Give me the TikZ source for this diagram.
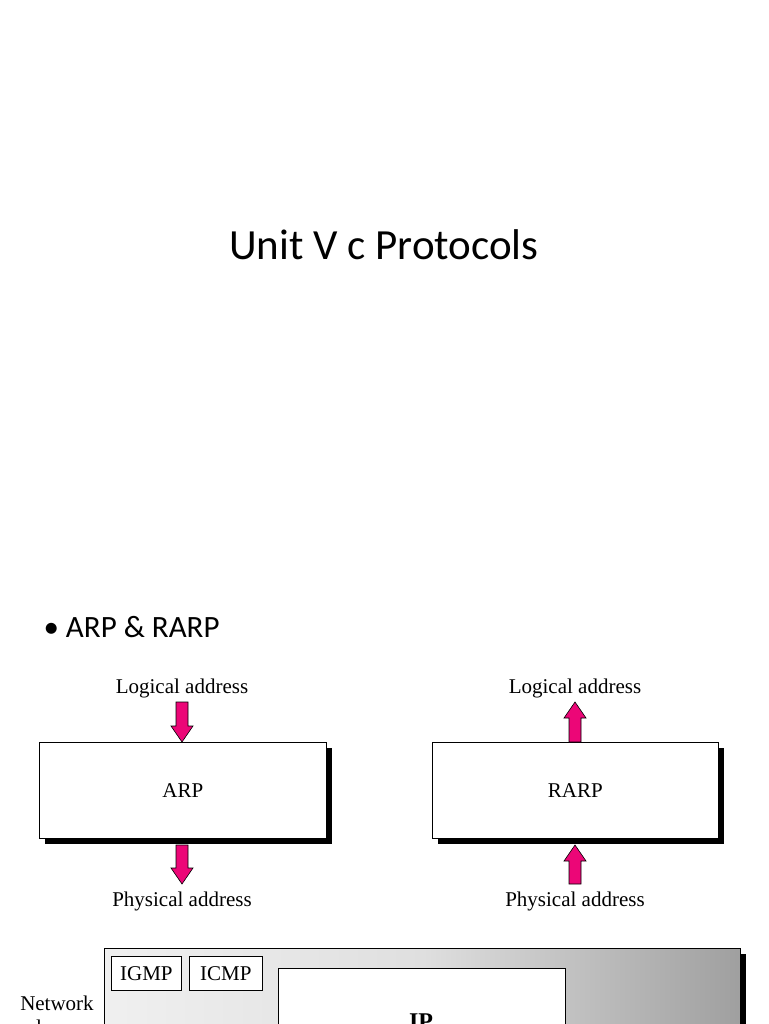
\documentclass[tikz,border=0pt]{standalone}
\usepackage{fontspec}
\setmainfont{Liberation Serif}
\newfontfamily\calfont{Carlito}
\begin{document}
\begin{tikzpicture}[x=1pt,y=-1pt,
  box/.style={draw=black,fill=white,line width=0.8pt},
  shadow/.style={fill=black},
  lbl/.style={font=\fontsize{21}{24}\selectfont},
  pink/.style={draw=black,fill=magenta!80!red,line width=0.6pt}]
\useasboundingbox (0,0) rectangle (768,1024);
\clip (0,0) rectangle (768,1024);
\node[font=\calfont\fontsize{43}{48}\selectfont] (title) at (384,245) {Unit V c Protocols};
\node[font=\calfont\fontsize{31}{36}\selectfont,anchor=west] (bul) at (40,627) {\textbullet\ ARP \& RARP};
% ARP
\fill[shadow] (45,748) rectangle (332,844);
\node[box,minimum width=287,minimum height=96,anchor=north west,lbl] (arp) at (39,742) {ARP};
\node[lbl] (la1) at (182,688) {Logical address};
\node[lbl] (pa1) at (182,901) {Physical address};
\fill[shadow] (438,748) rectangle (724,844);
\node[box,minimum width=286,minimum height=96,anchor=north west,lbl] (rarp) at (432,742) {RARP};
\node[lbl] (la2) at (575,688) {Logical address};
\node[lbl] (pa2) at (575,901) {Physical address};
% arrows
\def\down#1#2#3{\draw[pink] (#1-6,#2) -- (#1+6,#2) -- (#1+6,#3-16) -- (#1+11,#3-16) -- (#1,#3) -- (#1-11,#3-16) -- (#1-6,#3-16) -- cycle;}
\def\up#1#2#3{\draw[pink] (#1-6,#2) -- (#1+6,#2) -- (#1+6,#3+16) -- (#1+11,#3+16) -- (#1,#3) -- (#1-11,#3+16) -- (#1-6,#3+16) -- cycle;}
\down{182}{702}{742}
\down{182}{845}{884}
\up{575}{742}{702}
\up{575}{884}{845}
% bottom
\fill[shadow] (110,954) rectangle (746,1030);
\shade[left color=gray!12,right color=gray!75,middle color=gray!25] (104,948) rectangle (740,1030);
\draw[line width=0.8pt] (104,948) rectangle (740,1030);
\node[box,minimum width=70,minimum height=34,anchor=north west,lbl] (igmp) at (111,956) {IGMP};
\node[box,minimum width=73,minimum height=34,anchor=north west,lbl] (icmp) at (189,956) {ICMP};
\node[box,minimum width=287,minimum height=70,anchor=north west] (ip) at (278,968) {};
\node[font=\fontsize{24}{28}\selectfont\bfseries] (iptxt) at (421,1022) {IP};
\node[lbl,align=center] (net) at (57,1017) {Network\\layer};
\end{tikzpicture}
\end{document}
